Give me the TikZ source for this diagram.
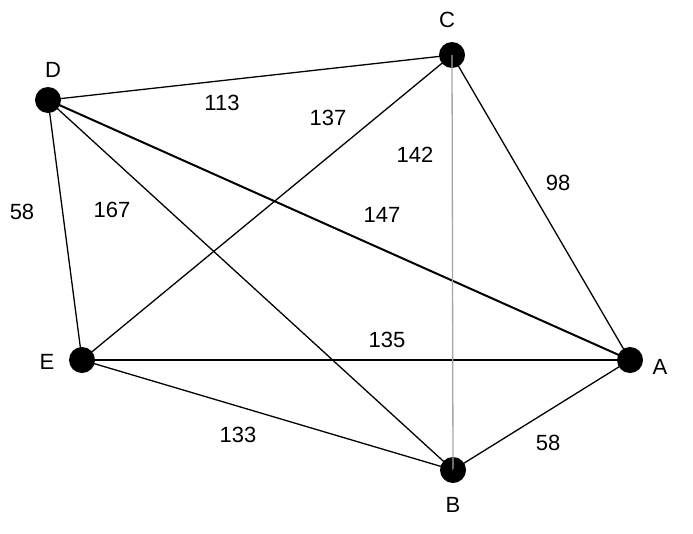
\documentclass[tikz,border=0pt]{standalone}
\usepackage{fontspec}
\setmainfont{Liberation Sans}
\begin{document}
\begin{tikzpicture}[x=1pt,y=-1pt,
  dot/.style={circle,fill=black,inner sep=0pt,minimum size=26pt},
  lbl/.style={font=\fontsize{22}{24}\selectfont,inner sep=0pt},
  edge/.style={line width=1.3pt}]
\useasboundingbox (0,0) rectangle (693,533);
\node[dot] (D) at (48,100) {};
\node[dot] (C) at (452,55) {};
\node[dot] (A) at (630,360) {};
\node[dot] (B) at (453,470) {};
\node[dot] (E) at (82,360) {};
\draw[edge] (D.center) -- (C.center);
\draw[edge] (D.center) -- (E.center);
\draw[edge] (D.center) -- (B.center);
\draw[edge,line width=2pt] (D.center) -- (A.center);
\draw[edge] (E.center) -- (C.center);
\draw[edge,line width=2pt] (E.center) -- (A.center);
\draw[edge] (E.center) -- (B.center);
\draw[edge] (C.center) -- (A.center);
\draw[edge,gray!70] (C.center) -- (B.center);
\draw[edge] (B.center) -- (A.center);
\node[lbl] (lC) at (447,20) {C};
\node[lbl] (lD) at (53,70) {D};
\node[lbl] (lE) at (47,362) {E};
\node[lbl] (lA) at (660,367) {A};
\node[lbl] (lB) at (453,505) {B};
\node[lbl] (w1) at (222,103) {113};
\node[lbl] (w2) at (328,118) {137};
\node[lbl] (w3) at (415,155) {142};
\node[lbl] (w4) at (558,183) {98};
\node[lbl] (w5) at (22,212) {58};
\node[lbl] (w6) at (112,210) {167};
\node[lbl] (w7) at (382,215) {147};
\node[lbl] (w8) at (387,340) {135};
\node[lbl] (w9) at (238,435) {133};
\node[lbl] (w10) at (548,443) {58};
\end{tikzpicture}
\end{document}
